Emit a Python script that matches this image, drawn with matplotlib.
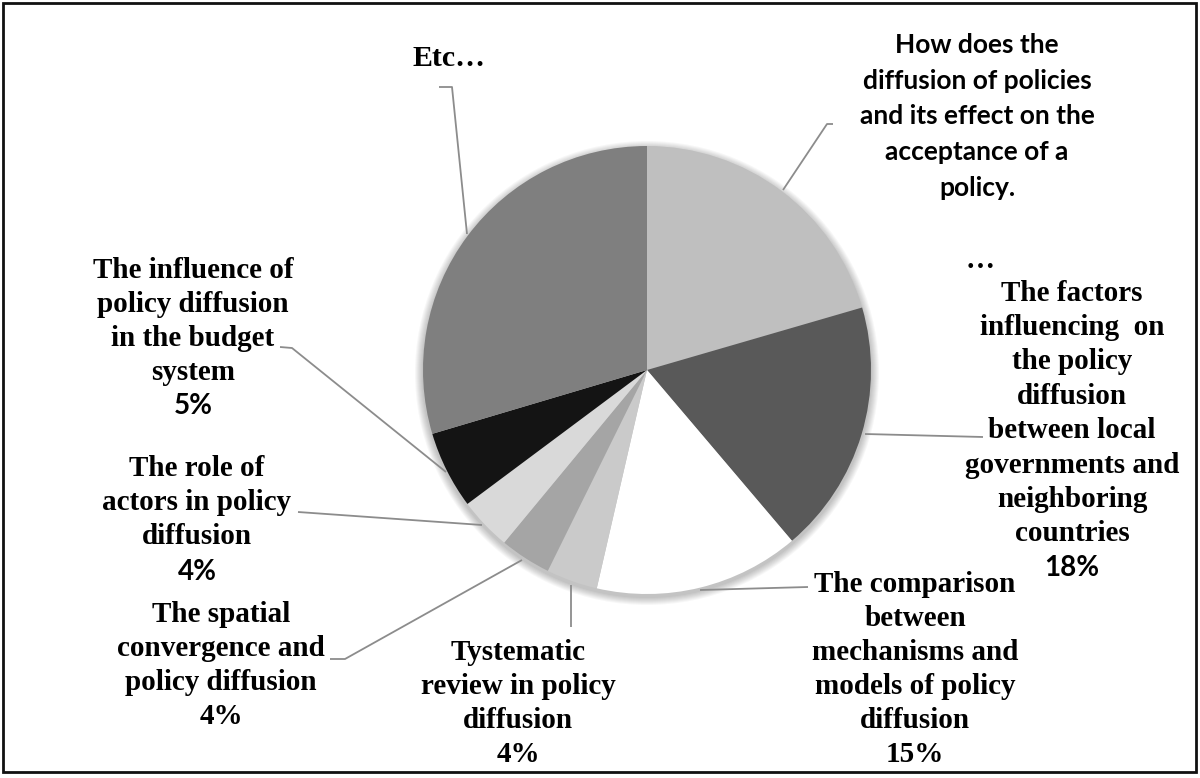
import matplotlib.pyplot as plt
from matplotlib.patches import Circle, Rectangle

# slice shares, clockwise from 12 o'clock
topics = ["How does the diffusion", "Factors", "Comparison", "Tystematic",
          "Spatial", "Role of actors", "Budget system", "Etc"]
shares = [20.5, 18.3, 14.8, 3.7, 3.7, 3.8, 5.6, 29.6]
colors = ["#bfbfbf", "#595959", "#ffffff", "#cacaca",
          "#a5a5a5", "#d9d9d9", "#141414", "#7f7f7f"]

# label texts: (lines, percent)
label_lines = [
    ["How does the", "diffusion of policies", "and its effect on the",
     "acceptance of a", "policy."],
    ["The factors", "influencing  on", "the policy", "diffusion",
     "between local", "governments and", "neighboring", "countries"],
    ["The comparison", "between", "mechanisms and", "models of policy",
     "diffusion"],
    ["Tystematic", "review in policy", "diffusion"],
    ["The spatial", "convergence and", "policy diffusion"],
    ["The role of", "actors in policy", "diffusion"],
    ["The influence of", "policy diffusion", "in the budget", "system"],
    ["Etc\u2026"],
]
pct_labels = ["", "18%", "15%", "4%", "4%", "4%", "5%", ""]

SERIF = "Liberation Serif"
SANS = "Lato"
SZ = 21

fig = plt.figure(figsize=(12, 7.78), dpi=100)
ax = fig.add_axes([0, 0, 1, 1])

cx, cy, r = 647, 370, 224

# soft shadow around the pie
for k in range(1, 9):
    ax.add_patch(Circle((cx, cy + 3), r + k, facecolor="#000000",
                        alpha=0.03, lw=0, zorder=1))

ax.pie(shares, colors=colors, startangle=-90, counterclock=True,
       center=(cx, cy), radius=r,
       wedgeprops=dict(linewidth=0, zorder=2))

ax.set_xlim(0, 1200)
ax.set_ylim(778, 0)
ax.set_aspect("equal")
ax.axis("off")


def block(lines, x, y0, dy, family, size):
    for i, s in enumerate(lines):
        ax.text(x, y0 + i * dy, s, ha="center", va="center",
                fontsize=size, fontweight="bold", family=family, zorder=5)


# label placement: center x, first line y, line step
place = [
    (977, 45, 35.7, SANS, 19),
    (1072, 293, 34.4, SERIF, SZ),
    (915, 585, 34.0, SERIF, SZ),
    (518, 652, 34.0, SERIF, SZ),
    (221, 615, 34.0, SERIF, SZ),
    (197, 468, 34.5, SERIF, SZ),
    (193, 270, 34.0, SERIF, SZ),
    (449, 58, 0, SERIF, 21.5),
]
pct_font = [SANS, SANS, SERIF, SERIF, SERIF, SANS, SANS, SANS]
for lines, (x, y0, dy, fam, fs), p, pf in zip(label_lines, place,
                                              pct_labels, pct_font):
    block(lines, x, y0, dy, fam, fs)
    if p:
        block([p], x, y0 + len(lines) * dy, 0, pf, 20 if pf == SANS else SZ)

ax.text(980, 260, "\u2026", ha="center", va="center", fontsize=SZ,
        fontweight="bold", family=SERIF)

# leader lines
leaders = [
    [(833, 124), (827, 124), (783, 190)],
    [(865, 434), (983, 437)],
    [(700, 590), (808, 587)],
    [(571, 585), (571, 627)],
    [(330, 659), (345, 659), (522, 560)],
    [(298, 512), (482, 525)],
    [(280, 347), (292, 348), (446, 472)],
    [(439, 87), (452, 87), (467, 234)],
]
for pts in leaders:
    xs, ys = zip(*pts)
    ax.plot(xs, ys, color="#8c8c8c", lw=1.3, zorder=3, solid_capstyle="butt")

# outer frame
fig.add_artist(Rectangle((3 / 1200, 1 - 772 / 778), 1193 / 1200, 769 / 778,
                         transform=fig.transFigure, fill=False,
                         edgecolor="#111111", lw=2))

plt.savefig("out.png", dpi=100, facecolor="white")
